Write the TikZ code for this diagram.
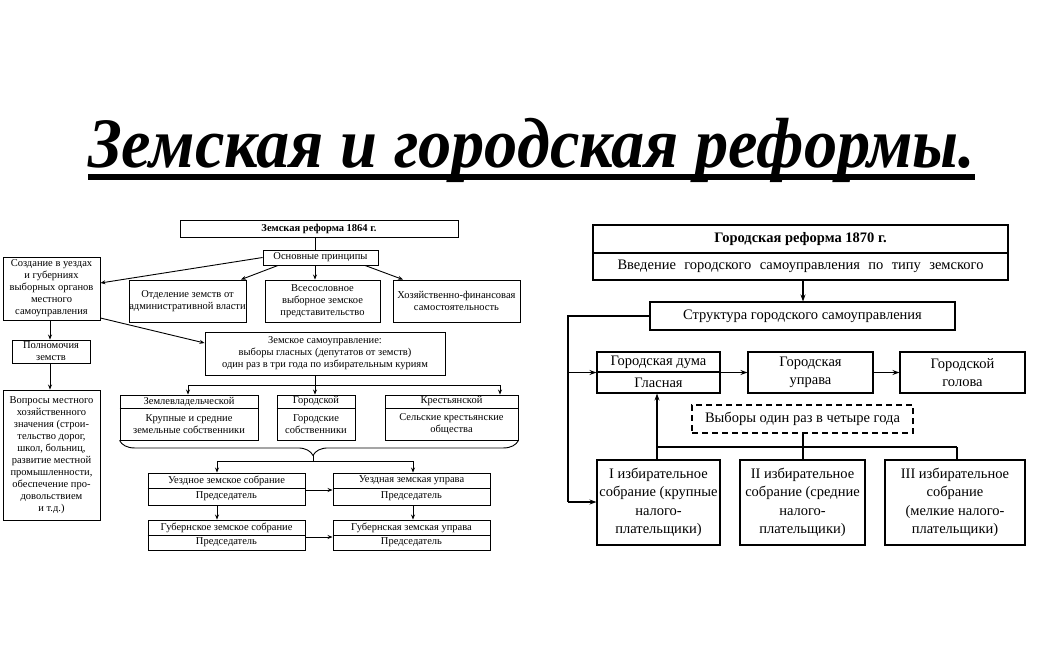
\documentclass[tikz,border=0pt]{standalone}
\usepackage{fontspec}
\setmainfont{Liberation Serif}
\usetikzlibrary{arrows.meta,decorations.pathreplacing}
\newcommand{\bx}[7][]{\node[#1, minimum width={#5-#3}, minimum height={#6-#4}] (#2) at ({(#3+#5)/2},{(#4+#6)/2}) {#7};}
\newcommand{\sbx}[9][]{%
 \node[#1, minimum width={#5-#3}, minimum height={#7-#4}] (#2) at ({(#3+#5)/2},{(#4+#7)/2}) {};
 \node[#1, draw=none] (#2h) at ({(#3+#5)/2},{(#4+#6)/2}) {#8};
 \node[#1, draw=none] (#2b) at ({(#3+#5)/2},{(#6+#7)/2}) {#9};
 \draw[#1] (#2.west |- 0,#6) -- (#2.east |- 0,#6);}
\begin{document}
\begin{tikzpicture}[x=1pt,y=-1pt,
 lbox/.style={draw, line width=0.9pt, font=\fontsize{10.5}{12}\selectfont, align=center, inner sep=0pt},
 rbox/.style={draw, line width=1.1pt, font=\fontsize{14.5}{18.5}\selectfont, align=center, inner sep=0pt},
 larr/.style={line width=0.9pt, -{Stealth[length=5pt,width=4pt]}},
 lln/.style={line width=0.9pt},
 rarr/.style={line width=1.1pt, -{Stealth[length=7pt,width=5pt]}},
 rln/.style={line width=1.1pt},
]
\useasboundingbox (0,0) rectangle (1058,654);
% title
\node[anchor=base west, inner sep=0pt] (title) at (88,167) {\resizebox{887pt}{\height}{\fontsize{71}{71}\selectfont\bfseries\itshape Земская и городская реформы.}};
\draw[line width=6pt] (title.west |- 0,176.5) -- (title.east |- 0,176.5);
% ---------- left diagram
\bx[lbox]{ref64}{180}{220}{458}{237}{\textbf{Земская реформа 1864 г.}}
\bx[lbox]{osn}{263}{250}{378}{265}{Основные принципы}
\bx[lbox]{create}{3}{257}{100}{320}{Создание в уездах\\и губерниях\\выборных органов\\местного\\самоуправления}
\bx[lbox]{otd}{129}{280}{246}{322}{Отделение земств от\\административной власти}
\bx[lbox]{vses}{265}{280}{380}{322}{Всесословное\\выборное земское\\представительство}
\bx[lbox]{hoz}{393}{280}{520}{322}{Хозяйственно-финансовая\\самостоятельность}
\bx[lbox]{poln}{12}{340}{90}{363}{Полномочия\\земств}
\bx[lbox]{vopr}{3}{390}{100}{520}{Вопросы местного\\хозяйственного\\значения (строи-\\тельство дорог,\\школ, больниц,\\развитие местной\\промышленности,\\обеспечение про-\\довольствием\\и т.д.)}
\bx[lbox]{zs}{205}{332}{445}{375}{Земское самоуправление:\\выборы гласных (депутатов от земств)\\один раз в три года по избирательным куриям}
\sbx[lbox]{zem}{120}{395}{258}{408}{440}{Землевладельческой}{Крупные и средние\\земельные собственники}
\sbx[lbox]{gor}{277}{395}{355}{408}{440}{Городской}{Городские\\собственники}
\sbx[lbox]{kres}{385}{395}{518}{408}{440}{Крестьянской}{Сельские крестьянские\\общества}
\sbx[lbox]{uezs}{148}{473}{305}{488}{505}{Уездное земское собрание}{Председатель}
\sbx[lbox]{uezu}{333}{473}{490}{488}{505}{Уездная земская управа}{Председатель}
\sbx[lbox]{gubs}{148}{520}{305}{535}{550}{Губернское земское собрание}{Председатель}
\sbx[lbox]{gubu}{333}{520}{490}{535}{550}{Губернская земская управа}{Председатель}
% left connectors
\draw[lln] (ref64.south -| 315,0) -- (osn.north -| 315,0);
\draw[larr] (osn.west) -- (create.east |- 0,283);
\draw[larr] (osn.south -| 278,0) -- (otd.north -| 241,0);
\draw[larr] (osn.south -| 315,0) -- (vses.north -| 315,0);
\draw[larr] (osn.south -| 365,0) -- (hoz.north -| 403,0);
\draw[larr] (create.east |- 0,318) -- (zs.west |- 0,343);
\draw[larr] (create.south -| 50,0) -- (poln.north -| 50,0);
\draw[larr] (poln.south -| 50,0) -- (vopr.north -| 50,0);
\coordinate (zsb) at (315,385);
\coordinate (cl) at (188,385);
\coordinate (cr) at (500,385);
\draw[lln] (zs.south -| zsb) -- (zsb);
\draw[lln] (cl) -- (cr);
\draw[larr] (cl) -- (zem.north -| cl);
\draw[larr] (zsb) -- (gor.north -| zsb);
\draw[larr] (cr) -- (kres.north -| cr);
\draw[lln, decorate, decoration={brace, mirror, amplitude=15pt, aspect=0.485}] (zem.south west) -- (kres.south east);
\coordinate (bt) at (313,455);
\coordinate (bl) at (217,461);
\coordinate (br) at (413,461);
\draw[lln] (bt) -- (bt |- bl);
\draw[lln] (bl) -- (br);
\draw[larr] (bl) -- (uezs.north -| bl);
\draw[larr] (br) -- (uezu.north -| br);
\draw[larr] (uezs.east |- 0,490) -- (uezu.west |- 0,490);
\draw[larr] (uezs.south -| bl) -- (gubs.north -| bl);
\draw[larr] (uezu.south -| br) -- (gubu.north -| br);
\draw[larr] (gubs.east |- 0,537) -- (gubu.west |- 0,537);
% ---------- right diagram
\sbx[rbox]{gr}{593}{225}{1008}{253}{280}{\textbf{Городская реформа 1870 г.}}{\makebox[366pt][s]{Введение городского самоуправления по типу земского}}
\bx[rbox]{str}{650}{302}{955}{330}{Структура городского самоуправления}
\sbx[rbox]{duma}{597}{352}{720}{372}{393}{Городская дума}{Гласная}
\bx[rbox]{upr}{748}{352}{873}{393}{Городская\\управа}
\bx[rbox]{gol}{900}{352}{1025}{393}{Городской\\голова}
\bx[rbox, dash pattern=on 6pt off 4pt]{vyb}{692}{405}{913}{433}{Выборы один раз в четыре года}
\bx[rbox]{e1}{597}{460}{720}{545}{I избирательное\\собрание (крупные\\налого-\\плательщики)}
\bx[rbox]{e2}{740}{460}{865}{545}{II избирательное\\собрание (средние\\налого-\\плательщики)}
\bx[rbox]{e3}{885}{460}{1025}{545}{III избирательное\\собрание\\(мелкие налого-\\плательщики)}
\draw[rarr] (gr.south -| 803,0) -- (str.north -| 803,0);
\coordinate (lt) at (568,316);
\coordinate (lb) at (568,502);
\draw[rln] (str.west |- lt) -- (lt) -- (lb);
\draw[rarr] (lt |- duma.west) -- (duma.west);
\draw[rarr] (lb) -- (e1.west |- lb);
\draw[rarr] (duma.east) -- (upr.west);
\draw[rarr] (upr.east) -- (gol.west);
\coordinate (h1) at (657,447);
\coordinate (h3) at (957,447);
\draw[rln] (h1) -- (h3);
\draw[rarr] (e1.north -| h1) -- (duma.south -| h1);
\draw[rln] (vyb.south -| 803,0) -- (e2.north -| 803,0);
\draw[rln] (h3) -- (e3.north -| h3);
\end{tikzpicture}
\end{document}
